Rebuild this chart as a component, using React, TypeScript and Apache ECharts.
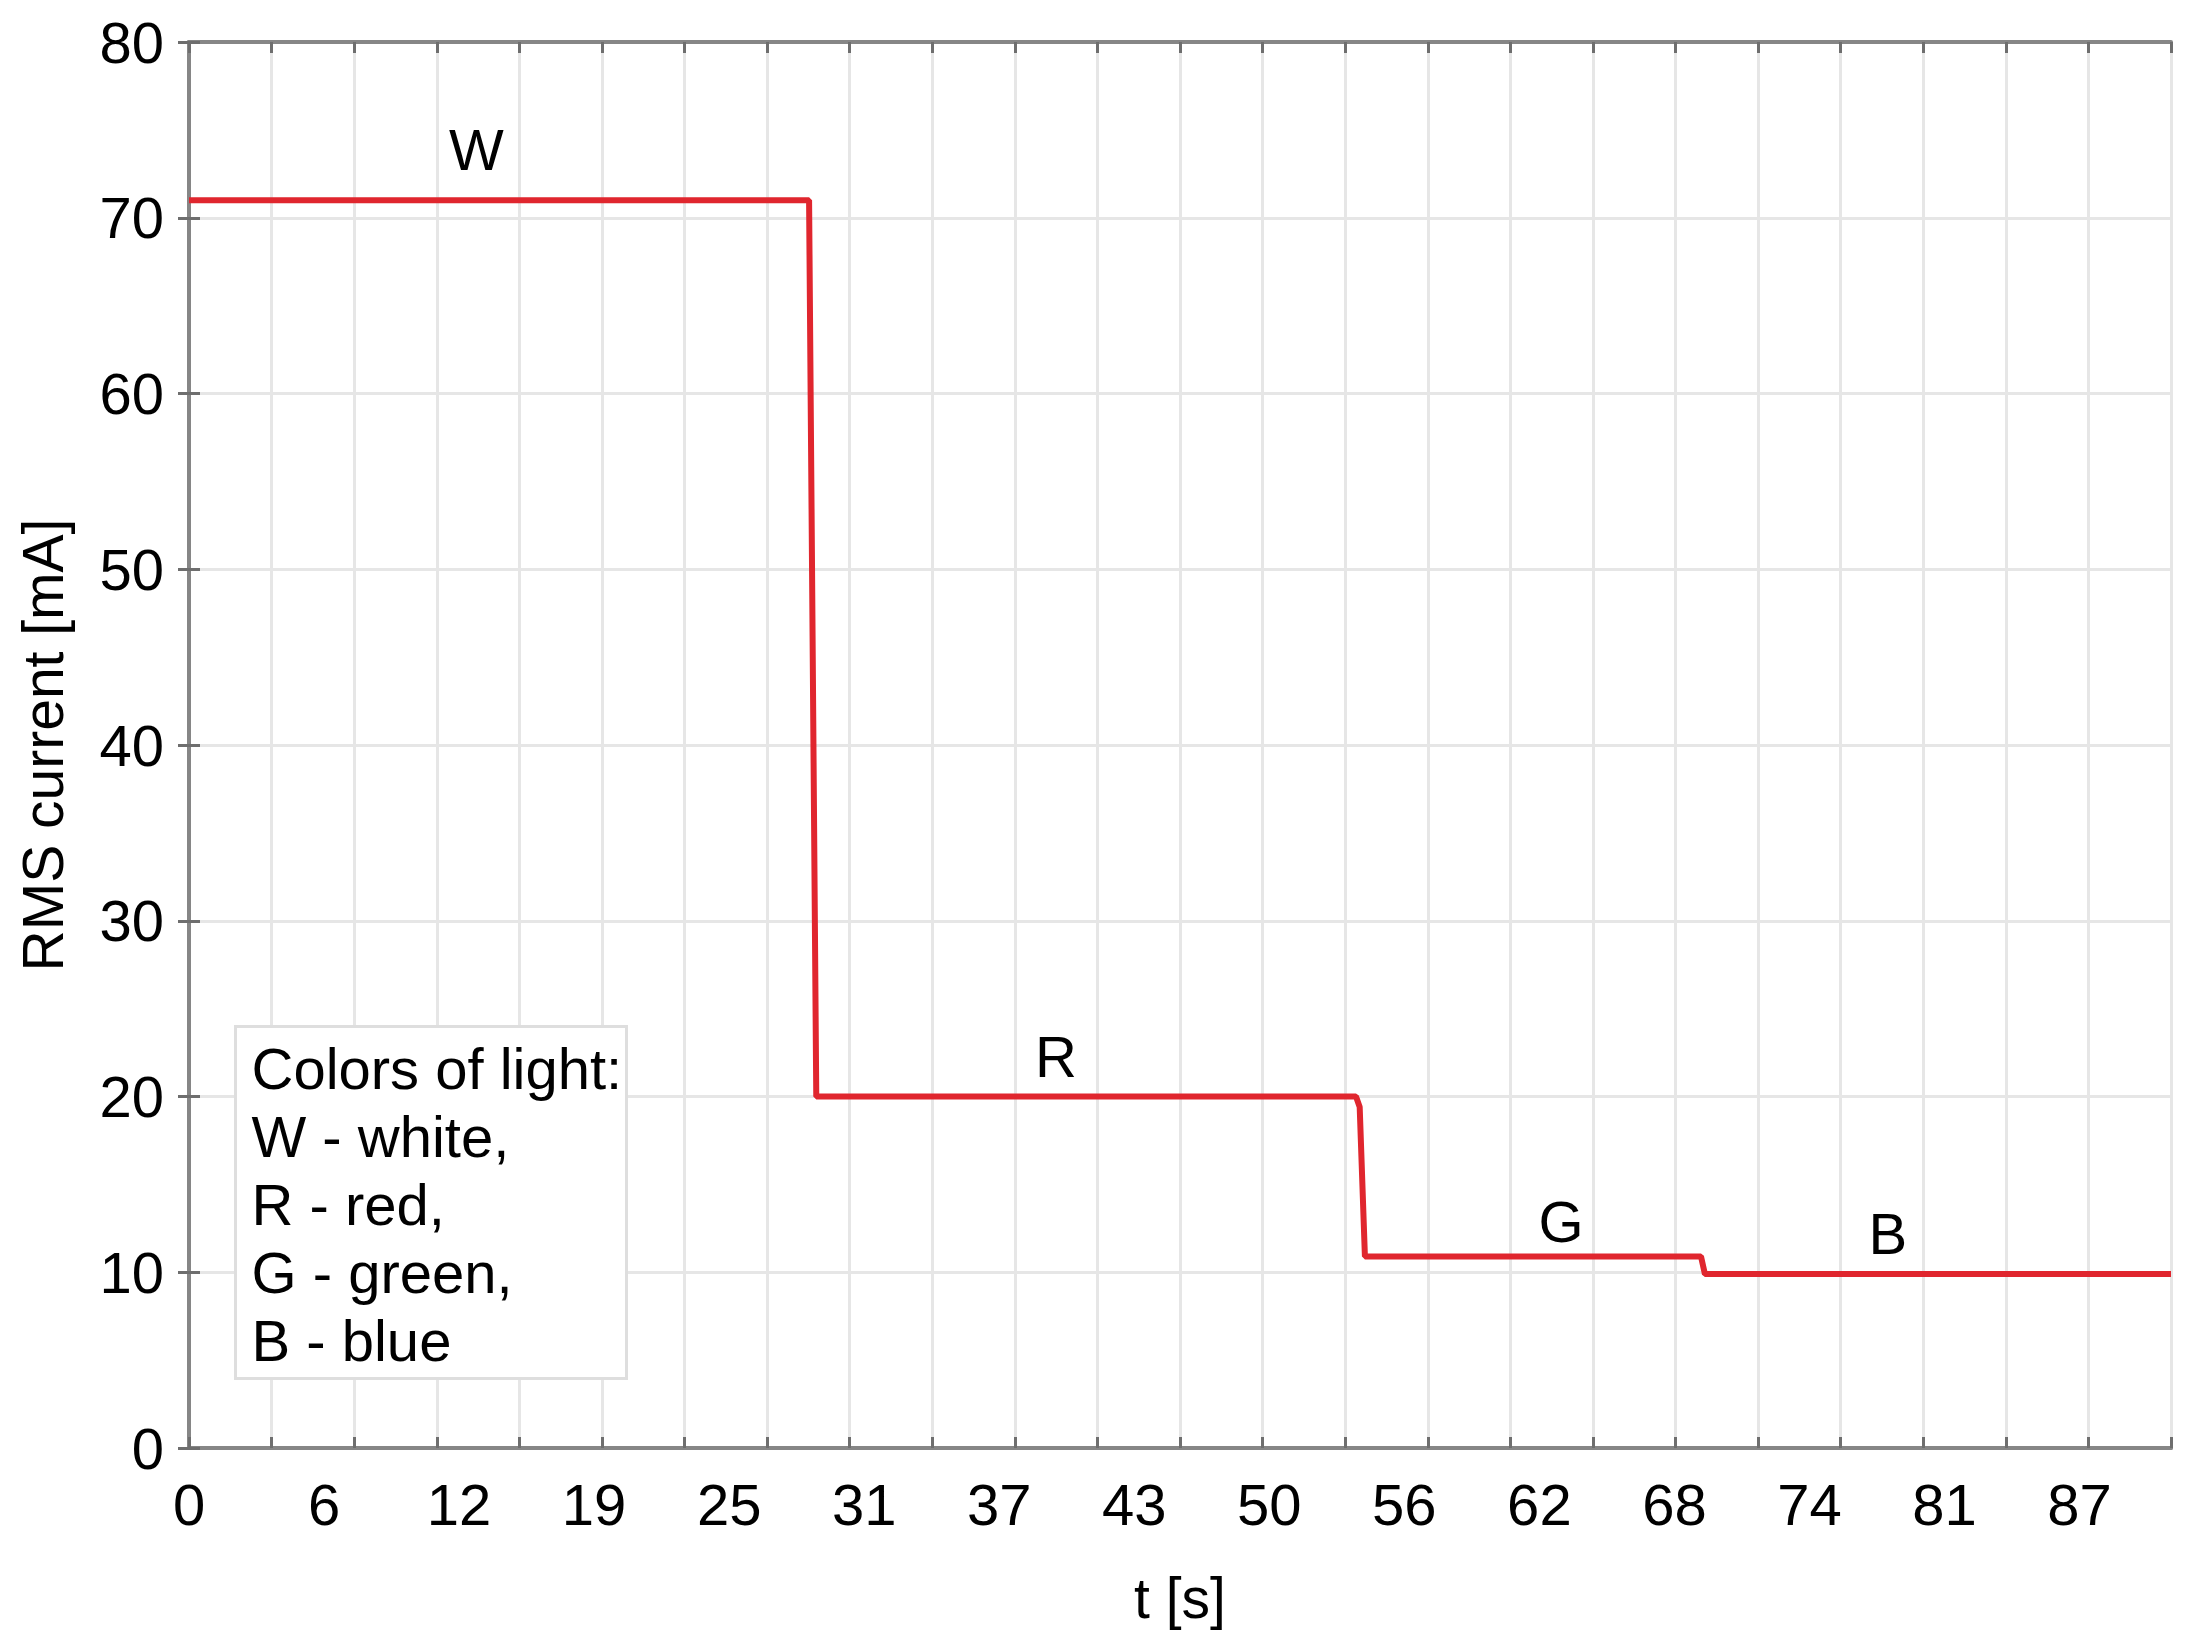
import React, { useEffect, useRef } from "react";
import * as echarts from "echarts";

// x: time [s], y: RMS current [mA]
const timeValues = [0, 28.47, 28.8, 53.58, 53.75, 53.99, 69.42, 69.6, 91];
const currentValues = [71, 71, 20, 20, 19.4, 10.9, 10.9, 9.9, 9.9];

// step annotations (data coordinates)
const annLabels = ["W", "R", "G", "B"];
const annX = [13.2, 39.8, 63.0, 78.0];
const annY = [73.9, 22.3, 12.9, 12.2];

const legendLines = ["Colors of light:", "W - white,", "R - red,", "G - green,", "B - blue"];

const X_MAX = 91;
const X_LABEL_STEP = 6.2;
const X_TICK_COUNT = 24;
const Y_MAX = 80;
const Y_STEP = 10;

const SANS = "'Liberation Sans', Arial, sans-serif";
const AXIS_GRAY = "#868686";
const GRID_GRAY = "#e6e6e6";

export default function App() {
  const ref = useRef<HTMLDivElement>(null);
  useEffect(() => {
    if (!ref.current) return;
    const chart = echarts.init(ref.current, undefined, { renderer: "svg" });
    const axisLine = { show: true, lineStyle: { color: AXIS_GRAY, width: 4 } };
    const tick = { show: true, inside: true, length: 11, lineStyle: { color: "#6e6e6e", width: 3 } };
    const option: any = {
      animation: false,
      backgroundColor: "#ffffff",
      grid: { left: 189, right: 22, top: 42, bottom: 201, containLabel: false },
      xAxis: [
        {
          type: "value",
          min: 0,
          max: X_MAX,
          interval: X_LABEL_STEP,
          position: "bottom",
          axisLine,
          axisTick: { show: false },
          splitLine: { show: false },
          axisLabel: {
            show: true,
            showMaxLabel: false,
            margin: 27,
            fontSize: 58,
            fontFamily: SANS,
            color: "#000000",
            formatter: (v: number) => (v > X_MAX - 1 ? "" : String(Math.round(v))),
          },
          name: "t [s]",
          nameLocation: "middle",
          nameGap: 121,
          nameTextStyle: { fontSize: 57, fontFamily: SANS, color: "#000000" },
        },
        {
          type: "value",
          min: 0,
          max: X_TICK_COUNT,
          interval: 1,
          position: "bottom",
          axisLine,
          axisTick: tick,
          axisLabel: { show: false },
          splitLine: { show: true, lineStyle: { color: GRID_GRAY, width: 3 } },
        },
        {
          type: "value",
          min: 0,
          max: X_TICK_COUNT,
          interval: 1,
          position: "top",
          axisLine,
          axisTick: tick,
          axisLabel: { show: false },
          splitLine: { show: false },
        },
      ],
      yAxis: [
        {
          type: "value",
          min: 0,
          max: Y_MAX,
          interval: Y_STEP,
          position: "left",
          axisLine,
          axisTick: tick,
          splitLine: { show: true, lineStyle: { color: GRID_GRAY, width: 3 } },
          axisLabel: {
            margin: 25,
            fontSize: 58,
            fontFamily: SANS,
            color: "#000000",
          },
          name: "RMS current [mA]",
          nameLocation: "middle",
          nameGap: 118,
          nameTextStyle: { fontSize: 57, fontFamily: SANS, color: "#000000" },
        },
        {
          type: "value",
          min: 0,
          max: Y_MAX,
          interval: Y_STEP,
          position: "right",
          axisLine,
          axisTick: tick,
          axisLabel: { show: false },
          splitLine: { show: false },
        },
      ],
      series: [
        {
          type: "line",
          xAxisIndex: 0,
          yAxisIndex: 0,
          data: timeValues.map((t, i) => [t, currentValues[i]]),
          showSymbol: false,
          symbol: "none",
          lineStyle: { color: "#e0262e", width: 6 },
          z: 5,
        },
        {
          type: "scatter",
          xAxisIndex: 0,
          yAxisIndex: 0,
          symbolSize: 0,
          itemStyle: { opacity: 1 },
          data: annLabels.map((l, i) => ({ value: [annX[i], annY[i]], name: l })),
          label: {
            show: true,
            position: "inside",
            formatter: (p: any) => p.name,
            fontSize: 58,
            fontFamily: SANS,
            color: "#000000",
            opacity: 1,
          },
          silent: true,
          z: 6,
        },
      ],
      graphic: [
        {
          type: "group",
          left: 234,
          top: 1025,
          z: 100,
          children: [
            {
              type: "rect",
              z: 100,
              shape: { x: 0, y: 0, width: 391, height: 352 },
              style: { fill: "#ffffff", stroke: "#dedede", lineWidth: 3 },
            },
            ...legendLines.map((line, i) => ({
              type: "text",
              z: 101,
              x: 16,
              y: 42 + i * 68,
              style: {
                text: line,
                fontSize: 58,
                fontFamily: SANS,
                fill: "#000000",
                verticalAlign: "middle",
                align: "left",
              },
            })),
          ],
        },
      ],
    };
    chart.setOption(option);
    return () => chart.dispose();
  }, []);
  return (
    <div
      ref={ref}
      style={{ position: "absolute", left: 0, top: 0, width: 2193, height: 1649 }}
    />
  );
}
